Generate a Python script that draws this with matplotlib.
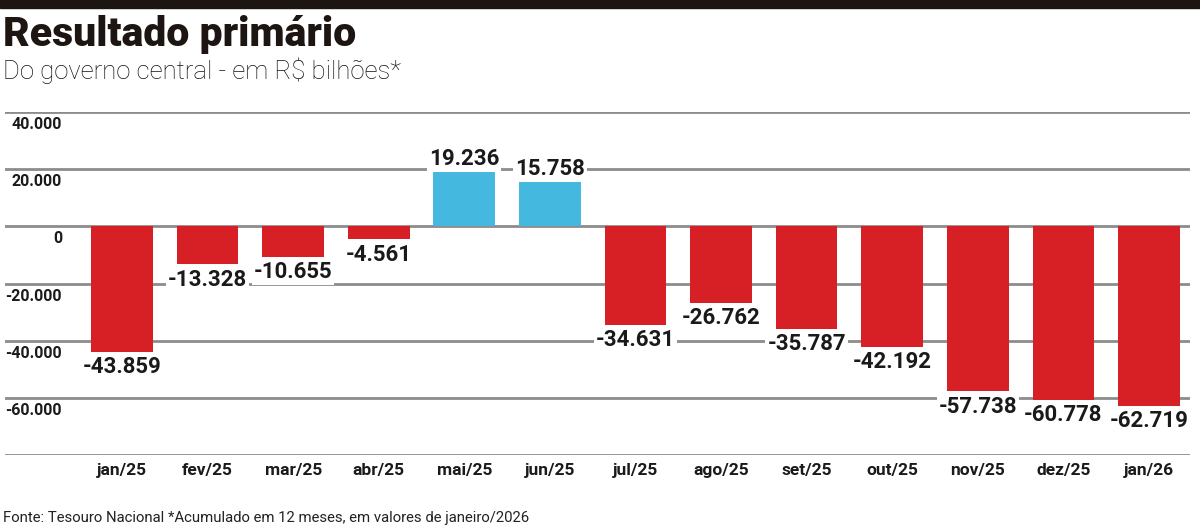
import numpy as np
import matplotlib.pyplot as plt
from matplotlib.patches import Rectangle

# dados (R$ bilhões, acumulado em 12 meses)
meses = ['jan/25', 'fev/25', 'mar/25', 'abr/25', 'mai/25', 'jun/25', 'jul/25',
         'ago/25', 'set/25', 'out/25', 'nov/25', 'dez/25', 'jan/26']
valores = [-43.859, -13.328, -10.655, -4.561, 19.236, 15.758, -34.631,
           -26.762, -35.787, -42.192, -57.738, -60.778, -62.719]
yticks = [40, 20, 0, -20, -40, -60]

RED = '#d71f26'
BLUE = '#45b8e0'
GRID = '#8c8c8c'
FONT = ['Roboto', 'DejaVu Sans']

fig = plt.figure(figsize=(12, 5.27), dpi=100)
W, H = 1200, 527

# faixa escura no topo
fig.patches.append(Rectangle((0, 1 - 8 / H), 1, 8 / H, transform=fig.transFigure,
                             color='#1c1511', zorder=0))

fig.text(3 / W, 1 - 46 / H, 'Resultado primário', fontsize=29.5, fontweight='black',
         family=FONT, color='#1c1511')
fig.text(3 / W, 1 - 79 / H, 'Do governo central - em R$ bilhões*', fontsize=18.5,
         fontweight='light', family=FONT, color='#111111')
fig.text(3 / W, 1 - 522 / H,
         'Fonte: Tesouro Nacional *Acumulado em 12 meses, em valores de janeiro/2026',
         fontsize=10.7, family=FONT, color='#222222')

ax = fig.add_axes([5 / W, 1 - 455 / H, 1185 / W, (455 - 112) / H])
x = np.arange(len(meses))
cores = [BLUE if v > 0 else RED for v in valores]
ax.bar(x, valores, width=0.72, color=cores, zorder=2)

ax.set_ylim(-80, 40)
ax.set_xlim(-1.367, 12.48)
for t in yticks + [-80]:
    ax.axhline(t, color=GRID, lw=2, zorder=1)

for t in yticks:
    lab = '0' if t == 0 else f'{t:.3f}'
    ax.text(57 / 1185, t - 1.8, lab, transform=ax.get_yaxis_transform(),
            ha='right', va='top', fontsize=11.5, fontweight='bold', family=FONT,
            color='#1a1a1a')

for xi, v in zip(x, valores):
    txt = f'{v:.3f}'
    pos = v > 0
    ax.annotate(txt, (xi, v), xytext=(0, 1 if pos else -3), textcoords='offset points',
                ha='center', va='bottom' if pos else 'top', fontsize=16,
                fontweight='bold', family=FONT, color='#1a1a1a', zorder=3,
                bbox=dict(facecolor='white', edgecolor='none', pad=1.5))

ax.set_xticks(x)
ax.set_xticklabels(meses, fontsize=12.5, fontweight='bold', family=FONT, color='#1a1a1a')
ax.tick_params(axis='x', length=0, pad=6)
ax.set_yticks([])
for s in ax.spines.values():
    s.set_visible(False)

fig.savefig('out.png', dpi=100)
